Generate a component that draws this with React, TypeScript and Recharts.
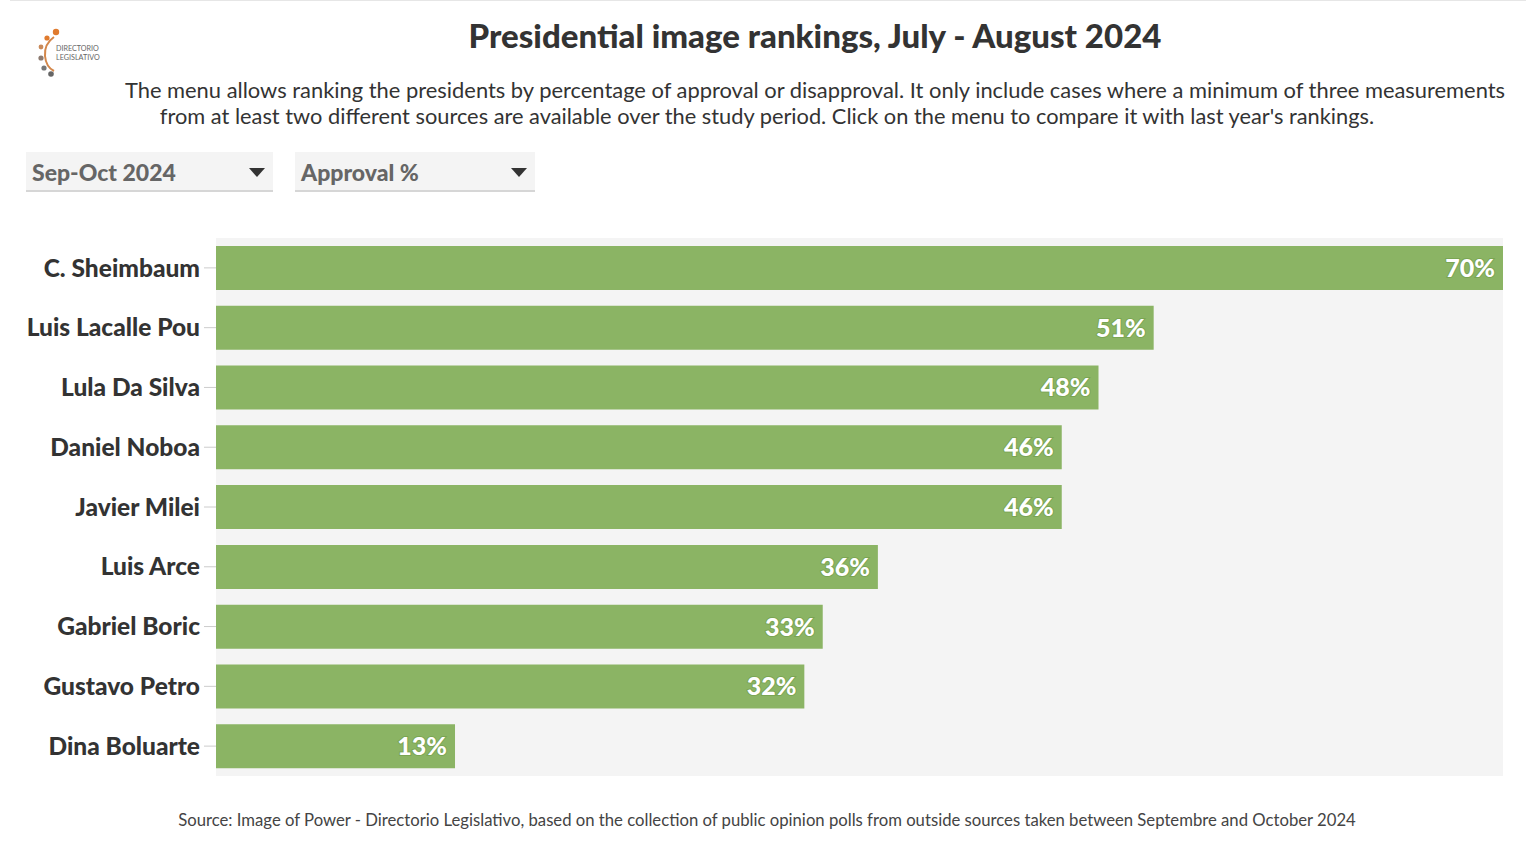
import React from "react";
import { BarChart, Bar, XAxis, YAxis, CartesianGrid, LabelList } from "recharts";

const presidents = [
  "C. Sheimbaum",
  "Luis Lacalle Pou",
  "Lula Da Silva",
  "Daniel Noboa",
  "Javier Milei",
  "Luis Arce",
  "Gabriel Boric",
  "Gustavo Petro",
  "Dina Boluarte",
];
const approval = [70, 51, 48, 46, 46, 36, 33, 32, 13];

const data = presidents.map((name, i) => ({ name, value: approval[i] }));

const FONT = "Lato, 'Noto Sans', sans-serif";

function Dropdown({ left, width, label }: { left: number; width: number; label: string }) {
  return (
    <div
      style={{
        position: "absolute",
        left,
        top: 152,
        width,
        height: 38,
        background: "#f4f4f4",
        borderBottom: "2px solid #d6d6d6",
        fontFamily: FONT,
        fontWeight: 900,
        fontSize: 23,
        color: "#666",
        lineHeight: "40px",
        paddingLeft: 6,
      }}
    >
      {label}
      <svg style={{ position: "absolute", right: 8, top: 16 }} width={16} height={9}>
        <polygon points="0,0 16,0 8,9" fill="#333" />
      </svg>
    </div>
  );
}

function Logo() {
  const dots: [number, number, number, string][] = [
    [56, 32, 3.2, "#e07b2e"],
    [47, 38, 2.6, "#e07b2e"],
    [41, 47, 2.4, "#c98a5a"],
    [41, 58, 2.6, "#8c7a70"],
    [44, 68, 2.6, "#777"],
    [51, 74, 2.8, "#666"],
  ];
  return (
    <svg style={{ position: "absolute", left: 0, top: 0 }} width={120} height={90}>
      <path d="M54 37 Q44 44 45 56 Q46 67 54 71" fill="none" stroke="#d4874a" strokeWidth={2} />
      {dots.map(([x, y, r, c], i) => (
        <circle key={i} cx={x} cy={y} r={r} fill={c} />
      ))}
      <text x={56} y={51} fontSize={7.2} fill="#666" fontFamily={FONT}>DIRECTORIO</text>
      <text x={56} y={60} fontSize={7.2} fill="#666" fontFamily={FONT}>LEGISLATIVO</text>
    </svg>
  );
}

export default function App() {
  return (
    <div
      style={{
        position: "absolute",
        left: 0,
        top: 0,
        width: 1536,
        height: 852,
        background: "#fff",
        overflow: "hidden",
        fontFamily: FONT,
      }}
    >
      <div style={{ position: "absolute", left: 10, right: 10, top: 0, height: 1, background: "#e6e6e6" }} />
      <Logo />
      <div
        style={{
          position: "absolute",
          left: 0,
          width: 1630,
          top: 15,
          textAlign: "center",
          fontSize: 33,
          fontWeight: 900,
          color: "#333",
        }}
      >
        Presidential image rankings, July - August 2024
      </div>
      <div
        style={{
          position: "absolute",
          left: 0,
          width: 1630,
          top: 77,
          textAlign: "center",
          fontSize: 21.9,
          lineHeight: "26px",
          color: "#333",
          whiteSpace: "nowrap",
        }}
      >
        The menu allows ranking the presidents by percentage of approval or disapproval. It only include cases where a minimum of three measurements
      </div>
      <div
        style={{
          position: "absolute",
          left: 0,
          width: 1534,
          top: 103,
          textAlign: "center",
          fontSize: 21.8,
          lineHeight: "26px",
          color: "#333",
          whiteSpace: "nowrap",
        }}
      >
        from at least two different sources are available over the study period. Click on the menu to compare it with last year's rankings.
      </div>
      <Dropdown left={26} width={241} label="Sep-Oct 2024" />
      <Dropdown left={295} width={234} label="Approval %" />
      <div style={{ position: "absolute", left: 0, top: 0 }}>
        <BarChart
          width={1536}
          height={852}
          data={data}
          layout="vertical"
          margin={{ top: 238, right: 33, bottom: 76, left: 0 }}
          barSize={44}
        >
          <CartesianGrid fill="#f4f4f4" horizontal={false} vertical={false} />
          <XAxis type="number" domain={[0, 70]} hide />
          <YAxis
            type="category"
            dataKey="name"
            width={216}
            axisLine={false}
            tickLine={{ stroke: "#ccc" }}
            tickSize={12}
            tickMargin={4}
            tick={{ fill: "#333", fontSize: 24.5, fontWeight: 900, fontFamily: FONT }}
            interval={0}
          />
          <Bar dataKey="value" fill="#8bb464" isAnimationActive={false}>
            <LabelList
              dataKey="value"
              position="insideRight"
              offset={8}
              formatter={(v: any) => `${v}%`}
              style={{ fill: "#fff", fontSize: 25, fontWeight: 900, fontFamily: FONT, stroke: "#7aa553", strokeWidth: 2, paintOrder: "stroke" } as any}
            />
          </Bar>
        </BarChart>
      </div>
      <div
        style={{
          position: "absolute",
          left: 0,
          width: 1534,
          top: 810,
          textAlign: "center",
          fontSize: 16.7,
          color: "#444",
          whiteSpace: "nowrap",
        }}
      >
        Source: Image of Power - Directorio Legislativo, based on the collection of public opinion polls from outside sources taken between Septembre and October 2024
      </div>
    </div>
  );
}
